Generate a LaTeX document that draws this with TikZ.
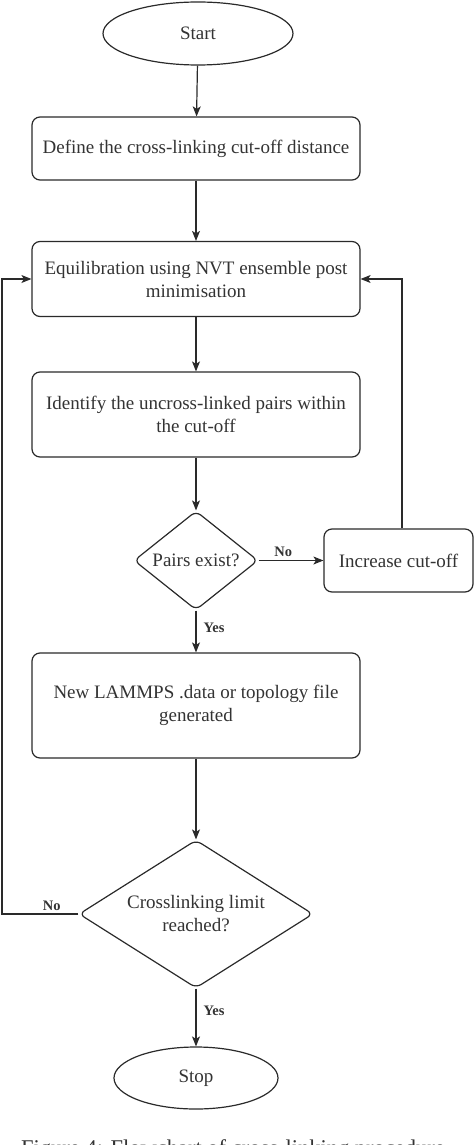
\documentclass[tikz,border=0pt]{standalone}
\usepackage{fontspec}
\setmainfont{Liberation Serif}
\usetikzlibrary{shapes.geometric,arrows.meta}
\definecolor{ln}{HTML}{2A2A2A}
\definecolor{tx}{HTML}{333333}
\begin{document}
\begin{tikzpicture}[x=1pt,y=-1pt,
  line/.style={draw=ln, line width=1.2pt},
  arr/.style={line, -{Stealth[length=10pt,width=8pt,inset=2.5pt]}},
  base/.style={draw=ln, line width=1.2pt, align=center, inner sep=0pt, text=tx,
    font=\fontsize{19}{23}\selectfont},
  proc/.style={base, rounded corners=8pt, minimum width=328pt},
  term/.style={base, ellipse},
  dec/.style={base, diamond, rounded corners=6pt},
  lbl/.style={text=tx, font=\fontsize{14.5}{16}\selectfont\bfseries, inner sep=1pt}]
\useasboundingbox (0,0) rectangle (474,1145);
\node[term, minimum width=190pt, minimum height=63pt] (start) at (198,33.5) {Start};
\node[proc, minimum height=63pt] (b1) at (196,148.5) {Define the cross-linking cut-off distance};
\node[proc, minimum height=75pt] (b2) at (196,279) {Equilibration using NVT ensemble post\\minimisation};
\node[proc, minimum height=85pt] (b3) at (196,414.5) {Identify the uncross-linked pairs within\\the cut-off};
\node[dec, minimum width=124pt, minimum height=99pt, aspect=1.25] (d1) at (196,560.5) {Pairs exist?};
\node[proc, minimum width=149pt, minimum height=63pt] (inc) at (398.5,560.5) {Increase cut-off};
\node[proc, minimum height=105pt] (b4) at (196,705.5) {New LAMMPS .data or topology file\\generated};
\node[dec, minimum width=234pt, minimum height=148pt, aspect=1.58] (d2) at (196,914) {Crosslinking limit\\reached?};
\node[term, minimum width=164pt, minimum height=62pt] (stop) at (196,1078) {Stop};
\node[text=tx, font=\fontsize{22.5}{26}\selectfont, anchor=base, inner sep=0pt] (cap) at (233,1155) {Figure 4: Flowchart of cross-linking procedure};
\coordinate (lft) at (2,914);
\draw[arr] (start) -- (b1);
\draw[arr] (b1) -- (b2);
\draw[arr] (b2) -- (b3);
\draw[arr] (b3) -- (d1);
\draw[arr] (d1) -- node[lbl, above, pos=0.38, yshift=2pt] {No} (inc);
\draw[arr] (d1) -- node[lbl, right, pos=0.4, xshift=6pt] {Yes} (b4);
\draw[arr] (b4) -- (d2);
\draw[arr] ([xshift=3.5pt]inc.north) |- (b2.east);
\draw[arr] (d2.west) -- node[lbl, above, pos=0.35, yshift=2pt] {No} (lft) |- (b2.west);
\draw[arr] (d2) -- node[lbl, right, pos=0.38, xshift=6pt] {Yes} (stop);
\end{tikzpicture}
\end{document}
